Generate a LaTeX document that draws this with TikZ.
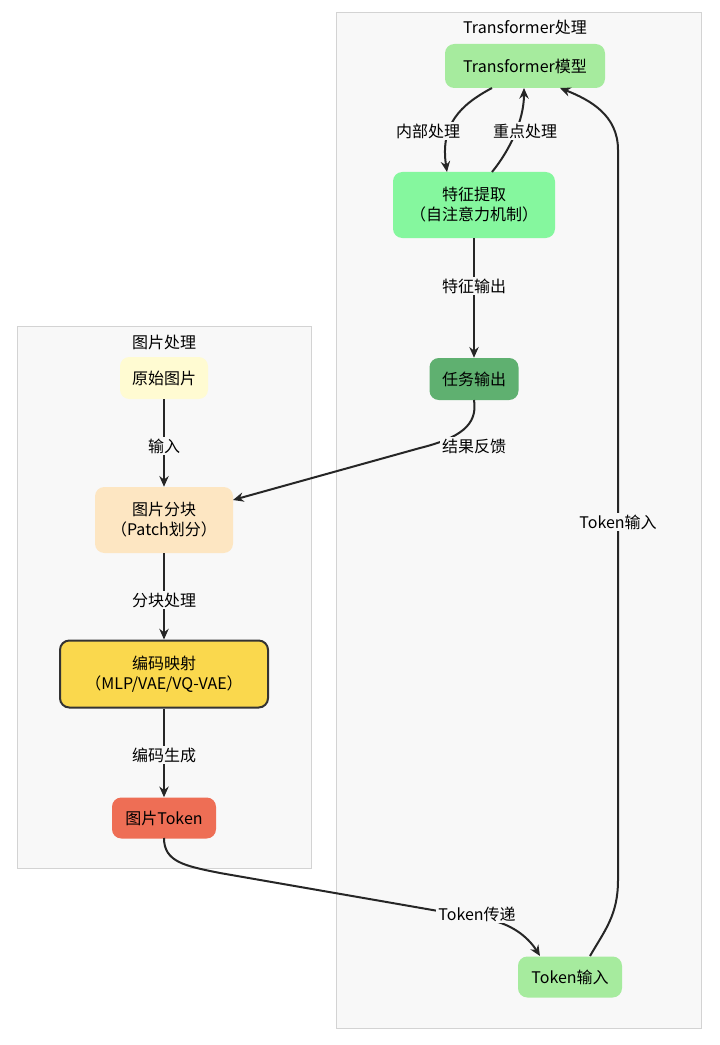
\documentclass[tikz,border=0pt]{standalone}
\usepackage{fontspec}
\setmainfont{Noto Sans CJK SC}
\usetikzlibrary{arrows.meta}
\definecolor{clbg}{HTML}{F8F8F8}
\definecolor{clln}{HTML}{D3D3D3}
\definecolor{gA}{HTML}{A6EB9E}
\definecolor{gB}{HTML}{85F79E}
\definecolor{gC}{HTML}{5FB070}
\definecolor{yA}{HTML}{FFFBD2}
\definecolor{oA}{HTML}{FDE6C2}
\definecolor{yB}{HTML}{FAD84D}
\definecolor{rA}{HTML}{EE6E55}
\tikzset{
  box/.style={draw=none, rounded corners=7pt, font=\fontsize{12}{15}\selectfont, align=center, inner sep=0pt},
  lbl/.style={fill=clbg, font=\fontsize{12}{15}\selectfont, inner sep=1.5pt},
  ar/.style={draw=black!85, line width=1.5pt, -{Stealth[length=8pt,width=7pt]}},
  cl/.style={draw=clln, fill=clbg, line width=0.6pt}
}
\begin{document}
\begin{tikzpicture}[x=0.75pt,y=-0.75pt]
\useasboundingbox (0,0) rectangle (720,1045);
% clusters
\draw[cl] (336,12) rectangle (701,1028);
\draw[cl] (17,326) rectangle (311,868);
\node[font=\fontsize{12}{15}\selectfont] (t1) at (525,27) {Transformer处理};
\node[font=\fontsize{12}{15}\selectfont] (t2) at (164,342) {图片处理};
% nodes
\node[box, fill=gA, minimum width=160*0.75pt, minimum height=44*0.75pt] (tm) at (525,66) {Transformer模型};
\node[box, fill=gB, minimum width=162*0.75pt, minimum height=66*0.75pt] (fe) at (474,205) {特征提取\\（自注意力机制）};
\node[box, fill=gC, minimum width=89*0.75pt, minimum height=42*0.75pt] (to) at (474,379) {任务输出};
\node[box, fill=gA, minimum width=104*0.75pt, minimum height=41*0.75pt] (ti) at (570,977) {Token输入};
\node[box, fill=yA, minimum width=88*0.75pt, minimum height=42*0.75pt] (yt) at (164,378) {原始图片};
\node[box, fill=oA, minimum width=138*0.75pt, minimum height=66*0.75pt] (pk) at (164,520) {图片分块\\（Patch划分）};
\node[box, fill=yB, draw=black!80, line width=1.5pt, minimum width=208*0.75pt, minimum height=67*0.75pt] (bm) at (164,674) {编码映射\\（MLP/VAE/VQ-VAE）};
\node[box, fill=rA, minimum width=104*0.75pt, minimum height=41*0.75pt] (pt) at (164,818) {图片Token};
% edges
\draw[ar] (492,88) .. controls (460,105) and (440,125) .. (447,172);
\node[lbl] (l1) at (428,131) {内部处理};
\draw[ar] (492,172) .. controls (510,150) and (524,120) .. (524,88);
\node[lbl] (l2) at (525,131) {重点处理};
\draw[ar] (fe) -- (to);
\node[lbl] (l3) at (474,286) {特征输出};
\draw[ar] (474,400) .. controls (478,425) and (460,438) .. (420,448) -- (233,500);
\node[lbl] (l4) at (474,446) {结果反馈};
\draw[ar] (yt) -- (pk);
\node[lbl] (l5) at (164,446) {输入};
\draw[ar] (pk) -- (bm);
\node[lbl] (l6) at (164,600) {分块处理};
\draw[ar] (bm) -- (pt);
\node[lbl] (l7) at (164,755) {编码生成};
\draw[ar] (164,838) .. controls (164,862) and (185,866) .. (220,873) -- (490,920) .. controls (515,925) and (530,940) .. (540,956);
\node[lbl] (l8) at (477,914) {Token传递};
\draw[ar] (590,956) .. controls (605,930) and (618,915) .. (618,880) -- (618,150) .. controls (618,115) and (590,100) .. (560,88);
\node[lbl] (l9) at (618,522) {Token输入};
\end{tikzpicture}
\end{document}
